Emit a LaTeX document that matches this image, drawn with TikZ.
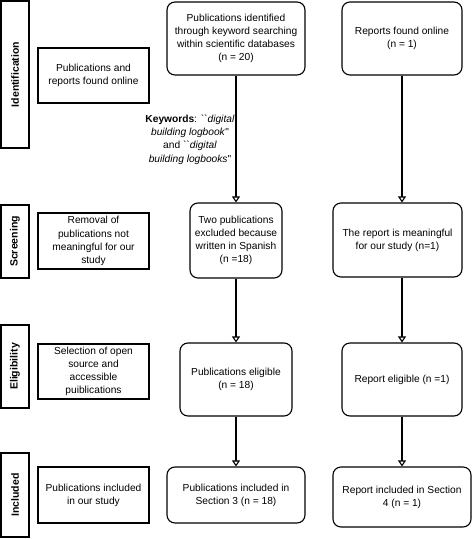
\documentclass[tikz,border=0pt]{standalone}
\usepackage{fontspec}
\setmainfont{Liberation Sans}
\usetikzlibrary{arrows.meta}

\begin{document}
\begin{tikzpicture}[
    x=1pt, y=-1pt,
    font=\fontsize{10.2}{13.2}\selectfont,
    phase/.style={rectangle, draw, line width=1.6pt, minimum width=28pt, inner sep=0pt, font=\fontsize{10.5}{12}\selectfont\bfseries},
    task/.style={rectangle, draw, line width=1.1pt, minimum width=111pt, minimum height=55pt, align=center, inner sep=2pt},
    count/.style={rectangle, draw, rounded corners=8pt, line width=1.1pt, align=center, inner sep=2pt},
    flow/.style={-{Triangle[open, length=6pt, width=8pt]}, line width=1.1pt}
]
\useasboundingbox (0,0) rectangle (474,539);

% Phases (left side)
\node[phase, minimum height=147pt] (ident) at (15, 74.5) {\rotatebox{90}{Identification}};
\node[phase, minimum height=73pt] (screen) at (15, 241.5) {\rotatebox{90}{Screening}};
\node[phase, minimum height=83pt] (elig) at (15, 366.5) {\rotatebox{90}{Eligibility}};
\node[phase, minimum height=84pt] (incl) at (15, 495) {\rotatebox{90}{Included}};

% Steps
\node[task] (s1) at (93.5, 75.5) {Publications and\\reports found online};
\node[task, minimum height=56pt] (s2) at (93.5, 241) {Removal of\\publications not\\meaningful for our\\study};
\node[task] (s3) at (93.5, 371.5) {Selection of open\\source and\\accessible\\puiblications};
\node[task, minimum height=56pt] (s4) at (93.5, 495) {Publications included\\in our study};

% Publications (middle)
\node[count, minimum width=138pt, minimum height=73pt] (p1) at (236, 38.5) {Publications identified\\through keyword searching\\within scientific databases\\(n = 20)};
\node[count, minimum width=92pt, minimum height=75pt] (p2) at (236, 240.5) {Two publications\\excluded because\\written in Spanish\\(n =18)};
\node[count, minimum width=112pt, minimum height=73pt] (p3) at (236, 379.5) {Publications eligible\\(n = 18)};
\node[count, minimum width=138pt, minimum height=56pt] (p4) at (236, 495) {Publications included in\\Section 3 (n = 18)};

% Reports (right side)
\node[count, minimum width=120pt, minimum height=73pt] (r1) at (402, 38.5) {Reports found online\\(n = 1)};
\node[count, minimum width=129pt, minimum height=74pt] (r2) at (397.5, 240) {The report is meaningful\\for our study (n=1)};
\node[count, minimum width=120pt, minimum height=73pt] (r3) at (402, 379.5) {Report eligible (n =1)};
\node[count, minimum width=138pt, minimum height=60pt] (r4) at (402, 497) {Report included in Section\\4 (n = 1)};

% Arrows
\draw[flow] (p1) -- (p2);
\draw[flow] (p2) -- (p3);
\draw[flow] (p3) -- (p4);
\draw[flow] (r1) -- (r1 |- r2.north);
\draw[flow] (r2.south -| r1) -- (r3);
\draw[flow] (r3) -- (r4);

% Label
\node[align=center, inner sep=0pt] (kw) at (190, 139.5) {\textbf{Keywords}: \textasciigrave\textasciigrave\textit{digital}\\\textit{building logbook}\textquotedbl\\and \textasciigrave\textasciigrave\textit{digital}\\\textit{building logbooks}\textquotedbl};

\end{tikzpicture}
\end{document}
